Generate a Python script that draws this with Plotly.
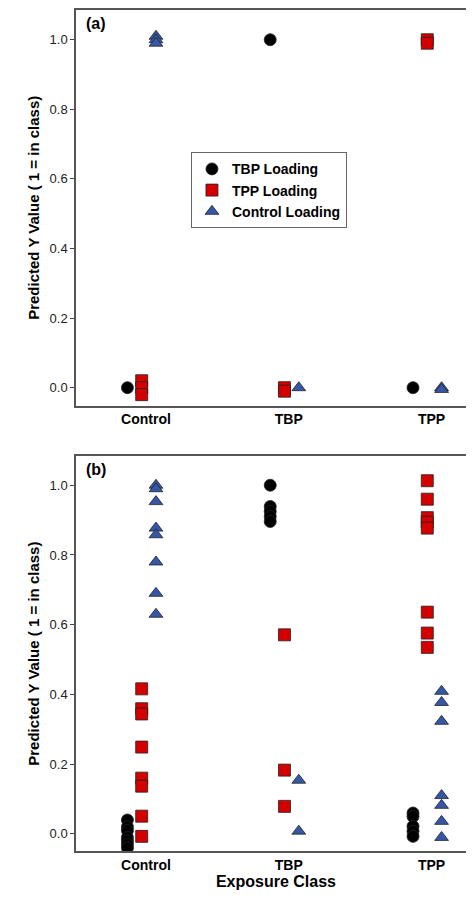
import plotly.graph_objects as go

categories = ["Control", "TBP", "TPP"]

# panel (a)
a_tbp = {"Control": [0.0], "TBP": [1.0], "TPP": [0.0]}
a_tpp = {"Control": [0.02, 0.0, -0.02], "TBP": [0.0, -0.01], "TPP": [1.0, 0.99]}
a_ctl = {"Control": [1.01, 1.0, 0.99], "TBP": [0.0], "TPP": [0.0, -0.005]}

# panel (b)
b_tbp = {"Control": [0.04, 0.02, 0.01, -0.01, -0.02, -0.03, -0.04],
         "TBP": [1.0, 0.939, 0.925, 0.91, 0.896],
         "TPP": [0.06, 0.05, 0.022, 0.008, -0.007]}
b_tpp = {"Control": [0.416, 0.359, 0.344, 0.249, 0.16, 0.137, 0.051, -0.007],
         "TBP": [0.571, 0.183, 0.079],
         "TPP": [1.013, 0.96, 0.907, 0.894, 0.877, 0.636, 0.576, 0.535]}
b_ctl = {"Control": [1.0, 0.99, 0.953, 0.877, 0.858, 0.78, 0.69, 0.63],
         "TBP": [0.154, 0.008],
         "TPP": [0.409, 0.377, 0.323, 0.11, 0.082, 0.036, -0.01]}

series = [
    ("TBP Loading", "circle", "black", -0.13),
    ("TPP Loading", "square", "#d40000", -0.03),
    ("Control Loading", "triangle-up", "#3557a6", 0.07),
]

fig = go.Figure()
for panel, (d_tbp, d_tpp, d_ctl) in enumerate([(a_tbp, a_tpp, a_ctl), (b_tbp, b_tpp, b_ctl)]):
    for (name, sym, col, off), d in zip(series, (d_tbp, d_tpp, d_ctl)):
        xs, ys = [], []
        for i, c in enumerate(categories):
            xs += [i + off] * len(d[c])
            ys += d[c]
        fig.add_trace(go.Scatter(
            x=xs, y=ys, mode="markers", name=name, showlegend=(panel == 0),
            xaxis="x" if panel == 0 else "x2", yaxis="y" if panel == 0 else "y2",
            marker=dict(symbol=sym, color=col, size=12,
                        line=dict(color="#222222", width=0.8))))

font = dict(family="Liberation Sans, Arial", color="black")
common_x = dict(range=[-0.49, 2.31], tickvals=[0, 1, 2], ticktext=categories,
                tickfont=dict(size=14, family="Liberation Sans, Arial", color="black", weight="bold"),
                showline=True, mirror=True, linecolor="#555", linewidth=1.5,
                showgrid=False, zeroline=False, ticks="")
common_y = dict(tickvals=[0, 0.2, 0.4, 0.6, 0.8, 1.0], tickformat=".1f",
                tickfont=dict(size=13, color="#222"), ticks="outside", ticklen=4,
                showline=True, mirror=True, linecolor="#555", linewidth=1.5,
                showgrid=False, zeroline=False,
                title=dict(text="<b>Predicted Y Value ( 1 = in class)</b>",
                           font=dict(size=15, color="black"), standoff=6))

fig.update_layout(
    width=474, height=902, margin=dict(l=0, r=0, t=0, b=0),
    paper_bgcolor="white", plot_bgcolor="white", font=font,
    xaxis=dict(domain=[0.1435, 0.987], anchor="y", **common_x),
    yaxis=dict(domain=[0.559, 0.998], anchor="x", range=[-0.052, 1.086], **common_y),
    xaxis2=dict(domain=[0.1435, 0.987], anchor="y2",
                title=dict(text="<b>Exposure Class</b>", font=dict(size=16), standoff=2),
                **common_x),
    yaxis2=dict(domain=[0.0654, 0.503], anchor="x2", range=[-0.049, 1.083], **common_y),
    legend=dict(x=0.386, y=0.84, xanchor="left", yanchor="top",
                bordercolor="#666", borderwidth=1, bgcolor="white",
                font=dict(size=14, color="black", weight="bold"), tracegroupgap=0),
    annotations=[
        dict(text="<b>(a)</b>", x=0.16, y=0.995, xref="paper", yref="paper",
             xanchor="left", yanchor="top", showarrow=False, font=dict(size=16)),
        dict(text="<b>(b)</b>", x=0.16, y=0.5, xref="paper", yref="paper",
             xanchor="left", yanchor="top", showarrow=False, font=dict(size=16)),
    ],
)

fig.write_html("out.html")
